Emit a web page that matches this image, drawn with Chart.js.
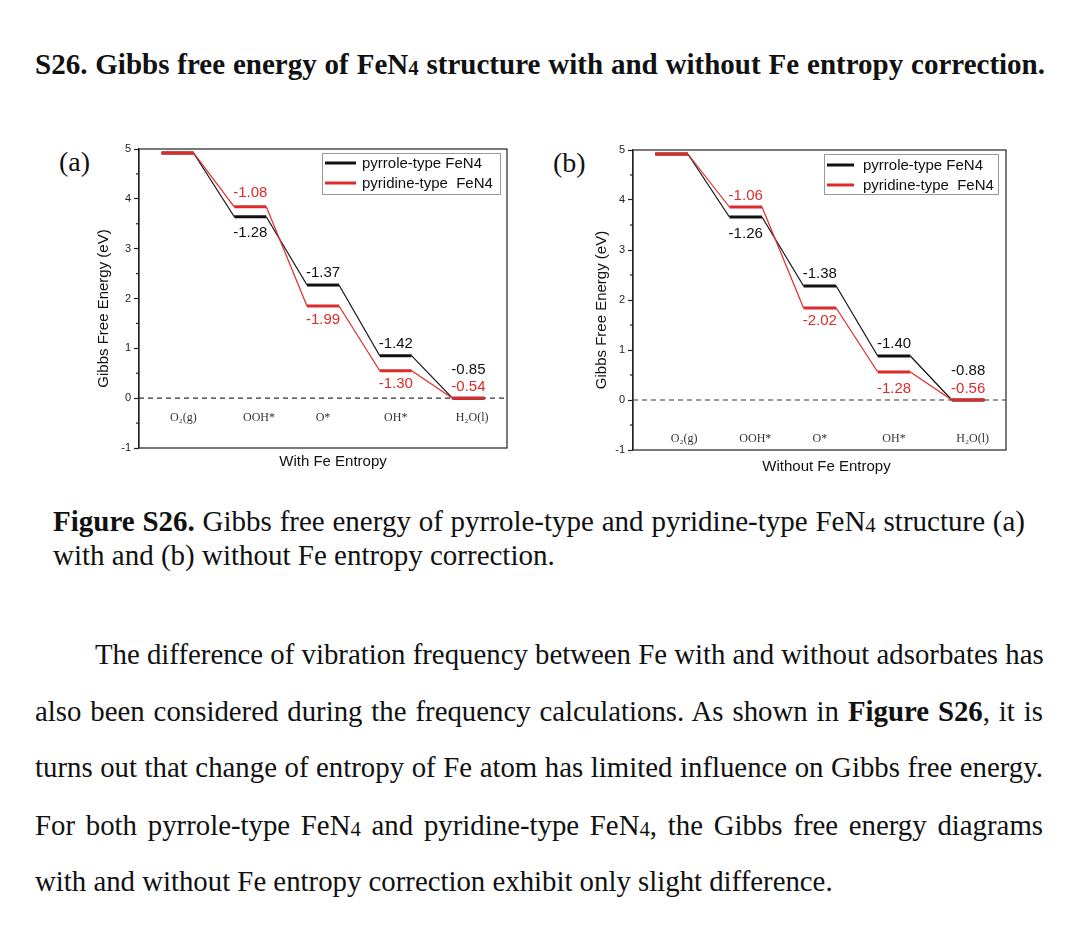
<!DOCTYPE html>
<html>
<head>
<meta charset="utf-8">
<script src="https://cdn.jsdelivr.net/npm/chart.js@4"></script>
<style>
  body { margin: 0; background: #fff; }
  #page { position: relative; width: 1080px; height: 948px; overflow: hidden; background: #fff;
          font-family: "Liberation Serif", "Times New Roman", serif; color: #111; }
  .t { position: absolute; white-space: nowrap; line-height: 1; }
  .j { text-align: justify; text-align-last: justify; }
  .sub { font-size: 0.72em; vertical-align: -0.06em; }
  canvas { position: absolute; }
</style>
</head>
<body>
<div id="page">
  <div class="t j" style="left:35px;top:50px;width:1010px;font-size:29px;font-weight:bold">S26. Gibbs free energy of FeN<span class="sub">4</span> structure with and without Fe entropy correction.</div>

  <div class="t" style="left:59px;top:148px;font-size:28px">(a)</div>
  <div class="t" style="left:553px;top:149px;font-size:28px">(b)</div>
  <canvas id="chartA" width="490" height="350" style="left:40px;top:130px"></canvas>
  <canvas id="chartB" width="490" height="350" style="left:530px;top:130px"></canvas>

  <div class="t j" style="left:53px;top:507px;width:972px;font-size:29px"><b>Figure S26.</b> Gibbs free energy of pyrrole-type and pyridine-type FeN<span class="sub">4</span> structure (a)</div>
  <div class="t" style="left:53px;top:541px;font-size:29px">with and (b) without Fe entropy correction.</div>

  <div class="t j" style="left:95px;top:640px;width:948px;font-size:28.8px">The difference of vibration frequency between Fe with and without adsorbates has</div>
  <div class="t j" style="left:35px;top:697px;width:1008px;font-size:28.8px">also been considered during the frequency calculations. As shown in <b>Figure S26</b>, it is</div>
  <div class="t j" style="left:35px;top:753px;width:1008px;font-size:28.8px">turns out that change of entropy of Fe atom has limited influence on Gibbs free energy.</div>
  <div class="t j" style="left:35px;top:811px;width:1008px;font-size:28.8px">For both pyrrole-type FeN<span class="sub">4</span> and pyridine-type FeN<span class="sub">4</span>, the Gibbs free energy diagrams</div>
  <div class="t" style="left:35px;top:867px;font-size:28.8px">with and without Fe entropy correction exhibit only slight difference.</div>
</div>

<script>
// reaction steps
const categories = ['O\u2082(g)', 'OOH*', 'O*', 'OH*', 'H\u2082O(l)'];
const seriesNames = ['pyrrole-type FeN4', 'pyridine-type  FeN4'];
const yTicks = [-1, 0, 1, 2, 3, 4, 5];

// (a) with Fe entropy, free energy levels (eV) and step labels
const pyrroleWith = [4.92, 3.64, 2.27, 0.85, 0];
const pyridineWith = [4.92, 3.84, 1.85, 0.55, 0];
const pyrroleWithSteps = ['-1.28', '-1.37', '-1.42', '-0.85'];
const pyridineWithSteps = ['-1.08', '-1.99', '-1.30', '-0.54'];

// (b) without Fe entropy
const pyrroleWithout = [4.92, 3.66, 2.28, 0.88, 0];
const pyridineWithout = [4.92, 3.86, 1.84, 0.56, 0];
const pyrroleWithoutSteps = ['-1.26', '-1.38', '-1.40', '-0.88'];
const pyridineWithoutSteps = ['-1.06', '-2.02', '-1.28', '-0.56'];

const BLACK = '#111111';
const RED = '#dd2a2a';
const SANS = '"Liberation Sans", Arial, sans-serif';
const SERIF = '"Liberation Serif", "Times New Roman", serif';
Chart.defaults.font.family = SANS;

// each level becomes a short flat segment; the line joins them
function stepPoints(levels) {
  const pts = [];
  levels.forEach((v, i) => {
    pts.push({ x: i - 0.22, y: v });
    pts.push({ x: i + 0.22, y: v });
  });
  return pts;
}

const diagramPlugin = {
  id: 'diagram',
  beforeDatasetsDraw(chart, args, o) {
    const { ctx, chartArea: a, scales: { y } } = chart;
    const y0 = y.getPixelForValue(0);
    ctx.save();
    ctx.strokeStyle = '#333';
    ctx.lineWidth = 1.2;
    ctx.setLineDash([5, 4]);
    ctx.beginPath();
    ctx.moveTo(a.left, y0);
    ctx.lineTo(a.right, y0);
    ctx.stroke();
    ctx.restore();
  },
  afterDraw(chart, args, o) {
    const { ctx, chartArea: a, scales: { x, y } } = chart;
    ctx.save();

    // frame
    ctx.strokeStyle = '#222';
    ctx.lineWidth = 1.2;
    ctx.strokeRect(a.left, a.top, a.right - a.left, a.bottom - a.top);

    // minor ticks
    for (let i = 0; i < yTicks.length - 1; i++) {
      const py = y.getPixelForValue((yTicks[i] + yTicks[i + 1]) / 2);
      ctx.beginPath();
      ctx.moveTo(a.left, py);
      ctx.lineTo(a.left - 3, py);
      ctx.stroke();
    }

    // reaction step names
    ctx.fillStyle = '#333';
    ctx.font = '12px ' + SERIF;
    ctx.textAlign = 'center';
    ctx.textBaseline = 'middle';
    categories.forEach((c, i) => {
      ctx.fillText(c, x.getPixelForValue(i + o.catShift[i]), y.getPixelForValue(o.catY));
    });

    // step energy labels
    ctx.font = '15px ' + SANS;
    chart.data.datasets.forEach(ds => {
      ctx.fillStyle = ds.borderColor;
      ds.steps.forEach((s, j) => {
        const i = j + 1;
        ctx.fillText(s, x.getPixelForValue(i), y.getPixelForValue(ds.levels[i]) + ds.labelDy[j]);
      });
    });

    // legend
    const lg = o.legend;
    const lx = a.right - lg.right - lg.w;
    const ly = a.top + lg.top;
    ctx.strokeStyle = '#999';
    ctx.lineWidth = 1;
    ctx.strokeRect(lx + 0.5, ly + 0.5, lg.w, lg.h);
    ctx.textAlign = 'left';
    chart.data.datasets.forEach((ds, k) => {
      const yy = ly + lg.row0 + k * lg.gap;
      ctx.strokeStyle = ds.borderColor;
      ctx.lineWidth = 3;
      ctx.beginPath();
      ctx.moveTo(lx + 3, yy);
      ctx.lineTo(lx + 3 + lg.line, yy);
      ctx.stroke();
      ctx.fillStyle = '#111';
      ctx.fillText(seriesNames[k], lx + lg.text, yy + 1);
    });

    // axis titles
    ctx.fillStyle = '#111';
    ctx.textAlign = 'center';
    ctx.fillText(o.xTitle, (a.left + a.right) / 2 + o.xTitleDx, a.bottom + o.xTitleDy);
    ctx.translate(a.left - o.yTitleDx, (a.top + a.bottom) / 2 + 10);
    ctx.rotate(-Math.PI / 2);
    ctx.fillText('Gibbs Free Energy (eV)', 0, 0);
    ctx.restore();
  }
};

function makeChart(id, black, red, blackSteps, redSteps, o) {
  const flat = ctx => ctx.p0.parsed.y === ctx.p1.parsed.y ? 3 : 1.2;
  new Chart(document.getElementById(id), {
    type: 'line',
    data: {
      datasets: [
        { label: seriesNames[0], data: stepPoints(black), levels: black, steps: blackSteps,
          labelDy: o.blackDy, borderColor: BLACK, order: 2,
          pointRadius: 0, borderWidth: 1.2, segment: { borderWidth: flat } },
        { label: seriesNames[1], data: stepPoints(red), levels: red, steps: redSteps,
          labelDy: o.redDy, borderColor: RED, order: 1,
          pointRadius: 0, borderWidth: 1.2, segment: { borderWidth: flat } }
      ]
    },
    options: {
      responsive: false,
      animation: false,
      layout: { padding: o.padding },
      plugins: { legend: { display: false }, tooltip: { enabled: false }, diagram: o },
      scales: {
        x: { type: 'linear', min: o.xMin, max: o.xMax, display: false },
        y: {
          min: -1, max: 5,
          afterFit: s => { s.width = o.axisWidth; },
          afterBuildTicks: s => { s.ticks = yTicks.map(v => ({ value: v })); },
          ticks: { color: '#222', font: { size: 11 }, padding: 3 },
          grid: { drawOnChartArea: false, tickLength: 5, color: '#222', tickWidth: 1.2 },
          border: { color: '#222', width: 1.2 }
        }
      }
    },
    plugins: [diagramPlugin]
  });
}

makeChart('chartA', pyrroleWith, pyridineWith, pyrroleWithSteps, pyridineWithSteps, {
  padding: { left: 0, right: 23, top: 19, bottom: 32 },
  axisWidth: 99, xMin: -0.53, xMax: 4.53,
  catY: -0.39, catShift: [0.08, 0.12, 0, 0, 0.05],
  blackDy: [16, -12, -12, -28], redDy: [-14, 14, 13, -11],
  legend: { right: 7, top: 4, w: 178, h: 41, row0: 10, gap: 20, line: 31, text: 40 },
  xTitle: 'With Fe Entropy', xTitleDx: 10, xTitleDy: 14, yTitleDx: 35
});

makeChart('chartB', pyrroleWithout, pyridineWithout, pyrroleWithoutSteps, pyridineWithoutSteps, {
  padding: { left: 0, right: 14, top: 20, bottom: 30 },
  axisWidth: 103, xMin: -0.52, xMax: 4.51,
  catY: -0.77, catShift: [0.17, 0.13, 0, 0, 0.06],
  blackDy: [17, -12, -12, -29], redDy: [-11, 13, 17, -11],
  legend: { right: 8, top: 4, w: 174, h: 40, row0: 11, gap: 20, line: 27, text: 39 },
  xTitle: 'Without Fe Entropy', xTitleDx: 7, xTitleDy: 17, yTitleDx: 31
});
</script>
</body>
</html>
